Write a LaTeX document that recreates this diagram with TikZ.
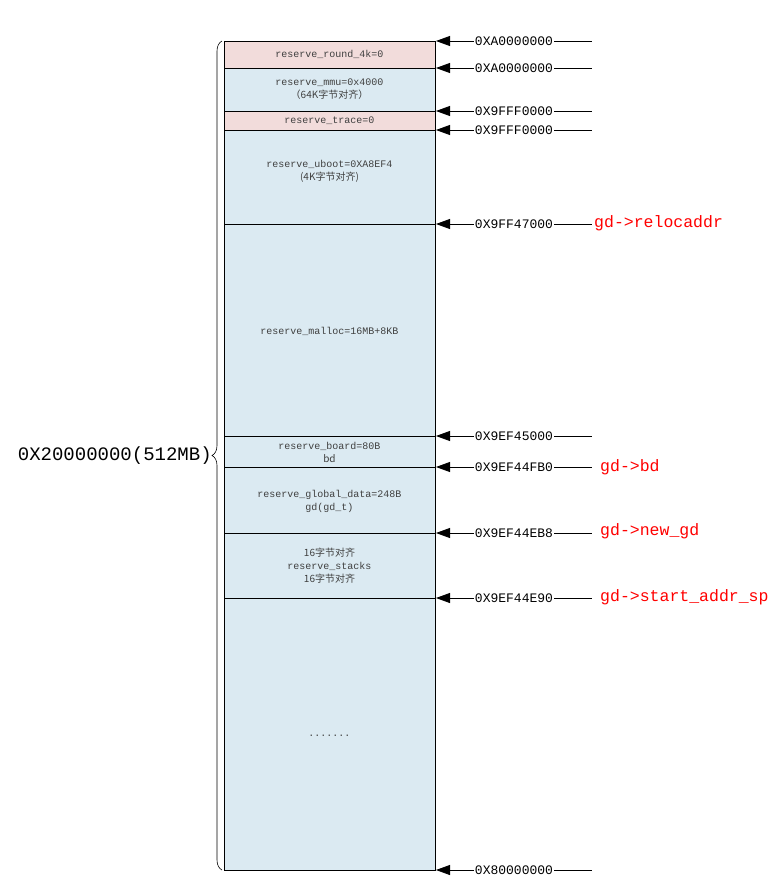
\documentclass[tikz,border=0pt]{standalone}
\usepackage{fontspec}
\setmainfont{Liberation Mono}
\newfontfamily\cjk{Noto Sans CJK SC}
\newfontfamily\redmono{Liberation Mono}
\usetikzlibrary{arrows.meta,decorations.pathreplacing}
\begin{document}
\begin{tikzpicture}[x=1pt,y=-1pt,
  seg/.style={draw=black,line width=1pt},
  txt/.style={font=\fontsize{10}{13}\selectfont,text=black!75,align=center},
  addr/.style={font=\fontsize{13}{15}\selectfont,inner sep=1pt},
  ptr/.style={-{Triangle[length=14pt,width=10pt]},line width=0.8pt},
  redl/.style={font=\redmono\fontsize{16.5}{18}\selectfont,text=red,anchor=west,inner sep=0pt}]
\useasboundingbox (0,0) rectangle (774,879);
\definecolor{bx}{RGB}{219,234,242}
\definecolor{pk}{RGB}{242,220,219}
\path[seg,fill=bx] (224,41) rectangle (435,870);
\path[seg,fill=pk] (224,41) rectangle (435,68);
\path[seg,fill=pk] (224,111) rectangle (435,130);
\foreach \y in {224,436,467,533,598} \draw[line width=1pt] (224,\y) -- (435,\y);
\node[txt] (t1) at (329.5,54) {reserve\_round\_4k=0};
\node[txt] (t2) at (329.5,89) {reserve\_mmu=0x4000\\{\cjk （64K字节对齐）}};
\node[txt] (t3) at (329.5,121) {reserve\_trace=0};
\node[txt] (t4) at (329.5,171) {reserve\_uboot=0XA8EF4\\{\cjk (4K字节对齐)}};
\node[txt] (t5) at (329.5,331) {reserve\_malloc=16MB+8KB};
\node[txt] (t6) at (329.5,452) {reserve\_board=80B\\{\cjk bd}};
\node[txt] (t7) at (329.5,501) {reserve\_global\_data=248B\\gd(gd\_t)};
\node[txt] (t8) at (329.5,566) {{\cjk 16字节对齐}\\reserve\_stacks\\{\cjk 16字节对齐}};
\node[txt] (t9) at (329.5,736) {.......};
\foreach \y/\lab/\n in {41/0XA0000000/a1,68/0XA0000000/a2,111/0X9FFF0000/a3,130/0X9FFF0000/a4,224/0X9FF47000/a5,436/0X9EF45000/a6,467/0X9EF44FB0/a7,533/0X9EF44EB8/a8,598/0X9EF44E90/a9,870/0X80000000/a10}{
  \node[addr] (\n) at (514,\y) {\lab};
  \coordinate (\n e) at (436,\y);
  \coordinate (\n r) at (592,\y);
  \draw[ptr] (\n.west) -- (\n e);
  \draw[line width=0.8pt] (\n.east) -- (\n r);
}
\node[redl] (r1) at (594,223) {gd->relocaddr};
\node[redl] (r2) at (600,467) {gd->bd};
\node[redl] (r3) at (600,531) {gd->new\_gd};
\node[redl] (r4) at (600,597) {gd->start\_addr\_sp};
\coordinate (bt) at (222,41);
\coordinate (bb) at (222,870);
\draw[decorate,decoration={brace,amplitude=10pt},line width=0.6pt] (bb) -- (bt) node[midway,left=10pt,font=\fontsize{19}{21}\selectfont,inner sep=0pt] (sz) {0X20000000(512MB)};
\end{tikzpicture}
\end{document}
